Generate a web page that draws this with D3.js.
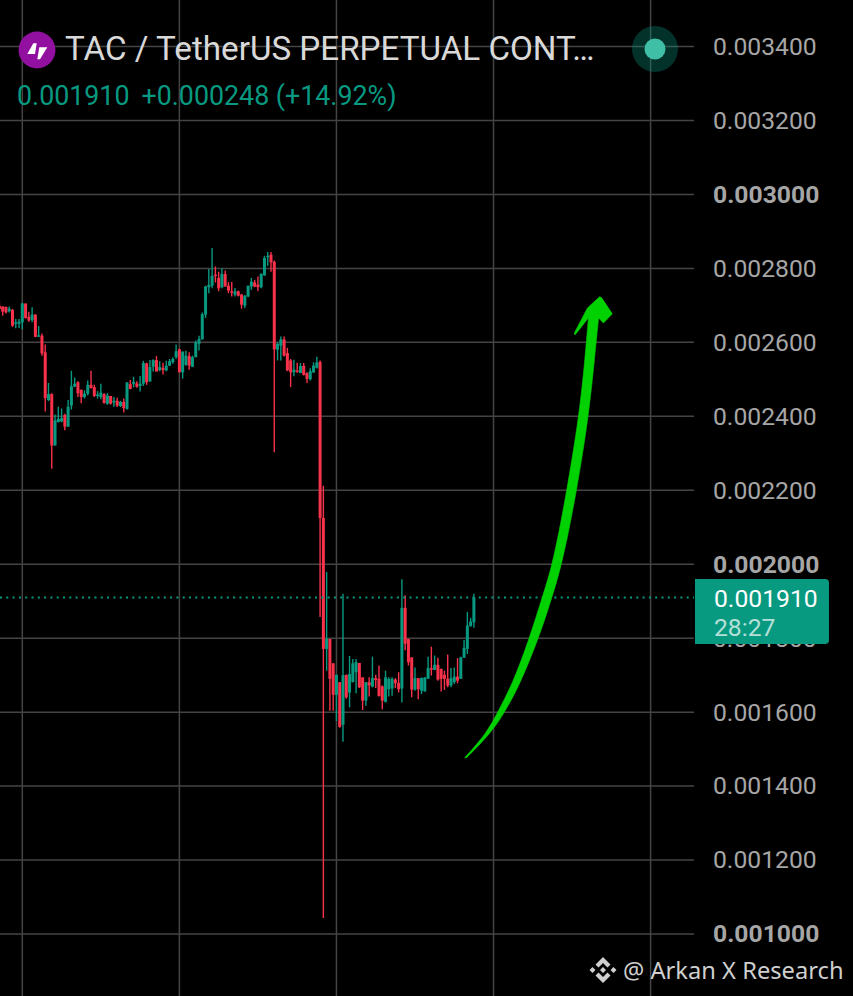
<!DOCTYPE html>
<html>
<head>
<meta charset="utf-8">
<script src="https://cdn.jsdelivr.net/npm/d3@7"></script>
<style>
html,body{margin:0;padding:0;background:#000;}
svg{display:block;}
text{font-family:Roboto,sans-serif;}
</style>
</head>
<body>
<div id="chart"></div>
<script>
// Prices are in millionths of a USDT
const opens=[2699,2697,2696,2684,2688,2650,2650,2654,2705,2669,2660,2675,2615,2618,2573,2444,2460,2321,2384,2386,2404,2372,2429,2480,2492,2472,2452,2461,2485,2479,2455,2452,2460,2434,2455,2437,2442,2428,2439,2420,2487,2488,2489,2482,2488,2543,2494,2534,2552,2525,2531,2524,2537,2546,2560,2581,2519,2539,2563,2534,2560,2596,2608,2675,2749,2753,2783,2774,2749,2785,2753,2738,2729,2738,2729,2699,2724,2751,2762,2756,2749,2781,2830,2837,2818,2580,2591,2608,2571,2551,2519,2524,2517,2536,2517,2500,2519,2531,2547,2125,1771,1798,1732,1647,1681,1566,1701,1653,1681,1708,1733,1694,1631,1681,1669,1692,1690,1670,1628,1662,1664,1688,1679,1664,1882,1798,1748,1661,1692,1658,1656,1690,1719,1714,1728,1717,1701,1690,1672,1681,1696,1690,1747,1771,1832,1843];
const highs=[2712,2697,2696,2697,2690,2663,2663,2707,2705,2683,2695,2676,2644,2624,2594,2490,2462,2405,2426,2421,2407,2444,2523,2505,2495,2472,2470,2497,2523,2485,2468,2488,2462,2463,2455,2452,2450,2442,2448,2493,2498,2507,2495,2509,2550,2545,2552,2554,2563,2549,2545,2550,2555,2560,2594,2583,2575,2577,2573,2564,2605,2618,2681,2753,2798,2855,2805,2791,2800,2794,2763,2763,2747,2740,2731,2728,2753,2774,2769,2778,2787,2834,2844,2844,2821,2600,2616,2616,2585,2555,2553,2545,2544,2544,2519,2530,2546,2561,2551,2212,1979,1798,1732,1701,1681,1920,1701,1752,1744,1744,1733,1694,1681,1694,1750,1701,1726,1672,1712,1694,1694,1692,1708,1959,1916,1798,1748,1721,1692,1694,1694,1750,1777,1753,1747,1717,1712,1756,1719,1721,1746,1750,1795,1871,1855,1920];
const lows=[2681,2672,2678,2681,2642,2638,2639,2635,2664,2656,2654,2614,2615,2564,2413,2441,2258,2321,2384,2384,2362,2372,2418,2479,2452,2435,2448,2456,2476,2452,2448,2446,2434,2431,2432,2426,2425,2425,2410,2418,2473,2478,2477,2467,2482,2485,2494,2521,2521,2522,2513,2522,2536,2542,2555,2519,2502,2537,2526,2533,2560,2578,2608,2666,2733,2746,2762,2738,2746,2751,2733,2724,2724,2724,2691,2693,2722,2742,2749,2738,2746,2780,2807,2791,2303,2551,2551,2562,2522,2479,2508,2518,2517,2510,2490,2497,2517,2529,1857,1043,1712,1604,1604,1576,1558,1520,1636,1613,1681,1651,1665,1606,1617,1642,1667,1665,1643,1608,1626,1642,1644,1665,1653,1626,1767,1726,1640,1658,1635,1649,1656,1690,1699,1714,1685,1656,1660,1667,1667,1676,1678,1690,1747,1757,1832,1828];
const closes=[2690,2683,2681,2691,2645,2654,2656,2705,2666,2659,2675,2615,2619,2570,2449,2460,2321,2389,2393,2395,2372,2426,2481,2488,2462,2452,2461,2485,2476,2455,2459,2464,2436,2456,2434,2442,2429,2439,2422,2491,2474,2493,2480,2488,2544,2492,2533,2552,2521,2533,2525,2537,2549,2555,2576,2519,2575,2564,2537,2560,2600,2609,2676,2751,2755,2780,2779,2746,2785,2751,2740,2734,2738,2726,2702,2726,2753,2764,2751,2749,2785,2828,2834,2816,2581,2596,2608,2564,2524,2519,2526,2520,2536,2512,2501,2522,2537,2546,2125,1771,1798,1690,1647,1701,1560,1700,1640,1703,1732,1735,1667,1631,1681,1672,1692,1687,1643,1631,1694,1690,1690,1678,1662,1882,1785,1735,1661,1692,1662,1692,1694,1719,1715,1728,1688,1690,1690,1672,1692,1696,1685,1748,1774,1834,1845,1910];

const tickValues=[3400,3200,3000,2800,2600,2400,2200,2000,1800,1600,1400,1200,1000];
const boldTicks=[3000,2000,1000];
const gridBars=[7,55,103,151,199];
const lastPrice=1910;

const title="TAC / TetherUS PERPETUAL CONT\u2026";
const quotePrice="0.001910";
const quoteChange="+0.000248 (+14.92%)";
const countdown="28:27";
const watermark="@ Arkan X Research";

// Hand-drawn arrow outline, in (bar, price)
const arrowLeftBars=[142.2,148.9,152.4,156.9,162.0,165.6,169.2,173.5,177.2,178.9,180.0];
const arrowLeftPrices=[1477,1543,1602,1678,1800,1903,2001,2202,2404,2550,2666];
const arrowHeadBars=[175.9,175.7,179.7,183.4,184.0,187.3,184.6,183.1];
const arrowHeadPrices=[2620,2625,2693,2723,2721,2677,2652,2666];
const arrowRightBars=[183.1,181.8,180.1,176.5,172.0,168.6,164.8,159.2,154.6,150.2,142.7];
const arrowRightPrices=[2666,2550,2404,2202,2001,1903,1800,1678,1602,1543,1476];

const W=853,H=996,plotRight=694;
const green="#089981",red="#f7324a",gridColor="#444444";

const x=d3.scaleLinear().domain([0,199]).range([-0.6,650.6]);
const y=d3.scaleLinear().domain([1000,3400]).range([934,46.5]);
const fmt=d=>(d/1e6).toFixed(6);

const svg=d3.select("#chart").append("svg").attr("width",W).attr("height",H);

// grid
svg.append("g").selectAll("line").data(tickValues).join("line")
  .attr("x1",0).attr("x2",plotRight).attr("y1",d=>y(d)).attr("y2",d=>y(d))
  .attr("stroke",gridColor).attr("stroke-width",1.5);
svg.append("g").selectAll("line").data(gridBars).join("line")
  .attr("x1",d=>x(d)).attr("x2",d=>x(d)).attr("y1",0).attr("y2",H)
  .attr("stroke",gridColor).attr("stroke-width",1.5);

// axis
const axis=svg.append("g").attr("transform",`translate(${713},0)`)
  .call(d3.axisRight(y).tickValues(tickValues).tickFormat(fmt).tickSize(0).tickPadding(0));
axis.select(".domain").remove();
axis.selectAll("text")
  .attr("font-size",24.7).attr("fill","#a6a6a6")
  .style("font-family","Roboto,sans-serif")
  .attr("font-weight",d=>boldTicks.includes(d)?700:400);

// candles
const candles=opens.map((o,i)=>({i,o,h:highs[i],l:lows[i],c:closes[i]}));
const col=d=>d.c>=d.o?green:red;
const g=svg.append("g");
g.selectAll("line").data(candles).join("line")
  .attr("x1",d=>x(d.i)).attr("x2",d=>x(d.i)).attr("y1",d=>y(d.h)).attr("y2",d=>y(d.l))
  .attr("stroke",col).attr("stroke-width",1.4);
g.selectAll("rect").data(candles).join("rect")
  .attr("x",d=>x(d.i)-1.5).attr("width",3)
  .attr("y",d=>y(Math.max(d.o,d.c))).attr("height",d=>Math.max(1,Math.abs(y(d.o)-y(d.c))))
  .attr("fill",col);

// last price line
svg.append("line").attr("x1",0).attr("x2",plotRight).attr("y1",y(lastPrice)).attr("y2",y(lastPrice))
  .attr("stroke",green).attr("stroke-width",2).attr("stroke-dasharray","2 4.3");

// arrow
const zipPts=(a,b)=>a.map((v,i)=>[x(v),y(b[i])]);
const curved=d3.line().curve(d3.curveBasis);
const leftD=curved(zipPts(arrowLeftBars,arrowLeftPrices));
const rightD=curved(zipPts(arrowRightBars,arrowRightPrices)).replace(/^M/,"L");
const headD=zipPts(arrowHeadBars,arrowHeadPrices).map(p=>"L"+p[0]+","+p[1]).join("");
svg.append("path").attr("d",leftD+headD+rightD+"Z").attr("fill","#00d100")
  .attr("stroke","#00d100").attr("stroke-width",0.6).attr("stroke-linejoin","round");

// price tag
const tag=svg.append("g");
tag.append("path")
  .attr("d","M695,579 H825 a4,4 0 0 1 4,4 V640 a4,4 0 0 1 -4,4 H695 Z")
  .attr("fill",green);
tag.append("text").attr("x",714).attr("y",606.5).attr("font-size",24.7).attr("fill","#ffffff").text(fmt(lastPrice));
tag.append("text").attr("x",714).attr("y",636).attr("font-size",24.7).attr("fill","#b5e0d8").text(countdown);

// status dot
svg.append("circle").attr("cx",655).attr("cy",49).attr("r",23).attr("fill",green).attr("fill-opacity",0.33);
svg.append("circle").attr("cx",655).attr("cy",49).attr("r",10.5).attr("fill","#3fbfa6");

// header
svg.append("circle").attr("cx",37).attr("cy",50).attr("r",18.5).attr("fill","#92109f");
svg.append("path").attr("d","M27.3,54 L33.3,43.3 L36.7,43.3 L35,54 Z M39.3,47.3 L47.3,47.3 L40,59.3 L37.3,59.3 Z").attr("fill","#ffffff");
svg.append("text").attr("x",65).attr("y",60).attr("font-size",33.2).attr("fill","#d9d9d9").text(title);
svg.append("text").attr("x",17).attr("y",105).attr("font-size",26.8).attr("fill",green).text(quotePrice);
svg.append("text").attr("x",141.5).attr("y",105).attr("font-size",26.8).attr("fill",green).text(quoteChange);

// watermark
const wm=svg.append("g").attr("transform","translate(603,970)").attr("fill","#cfcfcf");
wm.append("path").attr("d","M0,-13 L7.5,-5.5 L4.5,-2.5 L0,-7 L-4.5,-2.5 L-7.5,-5.5 Z M0,13 L7.5,5.5 L4.5,2.5 L0,7 L-4.5,2.5 L-7.5,5.5 Z M0,-3 L3,0 L0,3 L-3,0 Z M-10.5,-3 L-7.5,0 L-10.5,3 L-13.5,0 Z M10.5,-3 L13.5,0 L10.5,3 L7.5,0 Z");
svg.append("text").attr("x",623).attr("y",979).attr("font-size",23.7).attr("fill","#cfcfcf")
  .style("font-family","'Noto Sans',sans-serif").text(watermark);
</script>
</body>
</html>
